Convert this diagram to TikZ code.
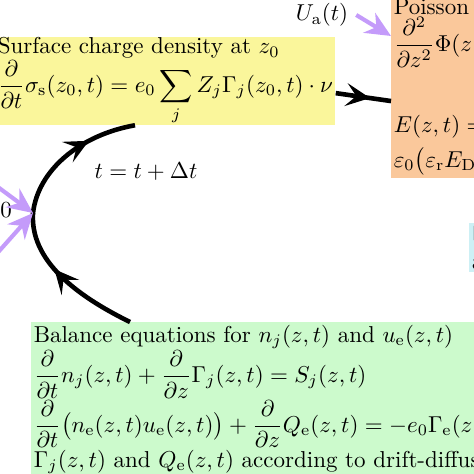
\documentclass[tikz,border=0pt]{standalone}
\usepackage{amsmath,amssymb}
\usepackage{xcolor}
\usepackage{tikz}
\usetikzlibrary{calc}
\usetikzlibrary{arrows.meta,decorations.markings}

\definecolor{surfyellow}{RGB}{250,246,155}
\definecolor{poisorange}{RGB}{250,200,155}
\definecolor{balgreen}{RGB}{204,250,204}
\definecolor{bcpurple}{RGB}{196,155,250}
\definecolor{infocyan}{RGB}{205,240,245}

\tikzset{
  eqbox/.style={inner sep=1pt, align=left, anchor=north west},
  flow/.style={line width=2pt, postaction={decorate},
    decoration={markings, mark=at position #1 with {\arrow{Stealth[length=10.5pt,width=10pt,inset=4.5pt]}}}},
  flow/.default=0.5,
  input/.style={bcpurple, line width=1.8pt, -{Stealth[length=11pt,width=10pt]}}
}

\begin{document}
\begin{tikzpicture}[x=0.4348pt,y=-0.4348pt]
\useasboundingbox (0,0) rectangle (474,474);
\clip (0,0) rectangle (474,474);

% Boxes
\node[eqbox, inner ysep=0pt, fill=surfyellow] (surf) at (-5,37) {Surface charge density at $z_0$\\
  $\displaystyle\frac{\partial}{\partial t}\sigma_\mathrm{s}(z_0,t)=e_0\sum_j Z_j\Gamma_j(z_0,t)\cdot\nu$};
\node[eqbox, fill=poisorange] (pois) at (391,-4) {Poisson\\
  $\displaystyle\frac{\partial^2}{\partial z^2}\Phi(z,t)=-\frac{e_0}{\varepsilon_0\varepsilon_\mathrm{r}}\sum_j Z_j n_j(z,t)$\\[11.5pt]
  $E(z,t)=-\frac{\partial}{\partial z}\Phi(z,t)$\\[3pt]
  $\varepsilon_0\bigl(\varepsilon_\mathrm{r}E_\mathrm{D}(z_0,t)-E_\mathrm{P}(z_0,t)\bigr)=\sigma_\mathrm{s}(z_0,t)$};
\node[eqbox, fill=balgreen] (bal) at (31,322) {Balance equations for $n_j(z,t)$ and $u_\mathrm{e}(z,t)$\\
  $\displaystyle\frac{\partial}{\partial t}n_j(z,t)+\frac{\partial}{\partial z}\Gamma_j(z,t)=S_j(z,t)$\\
  $\displaystyle\frac{\partial}{\partial t}\bigl(n_\mathrm{e}(z,t)u_\mathrm{e}(z,t)\bigr)+\frac{\partial}{\partial z}Q_\mathrm{e}(z,t)=-e_0\Gamma_\mathrm{e}(z,t)E(z,t)$\\
  $\Gamma_j(z,t)$ and $Q_\mathrm{e}(z,t)$ according to drift-diffusion approximation\\[6pt]};
\node[eqbox, fill=infocyan, font=\sffamily\bfseries] (info) at (469,223) {I\\a};

% Labels
\node (ua) at (322,15) {$U_\mathrm{a}(t)$};
\node[anchor=east] (t0) at (20,210) {$t=0$};
\node (tstep) at (146,172) {$t=t+\Delta t$};
\coordinate (init) at (33,213);

% Time loop
\draw[flow=0.6] ($(bal.north west)+(99,0)$) .. controls (75,295) and (30,260) .. (init);
\draw[flow=0.66] (init) .. controls (38,170) and (80,135) .. ($(surf.south west)+(140,0)$);
\draw[flow=0.62] ($(surf.east)+(0,12)$) -- ($(pois.west)+(0,14)$);

% Inputs
\foreach \sy in {159,295}
  \draw[input] (-40,\sy) -- (init);
\draw[input] (ua.east) -- ($(pois.north west)+(0,40)$);
\end{tikzpicture}
\end{document}
